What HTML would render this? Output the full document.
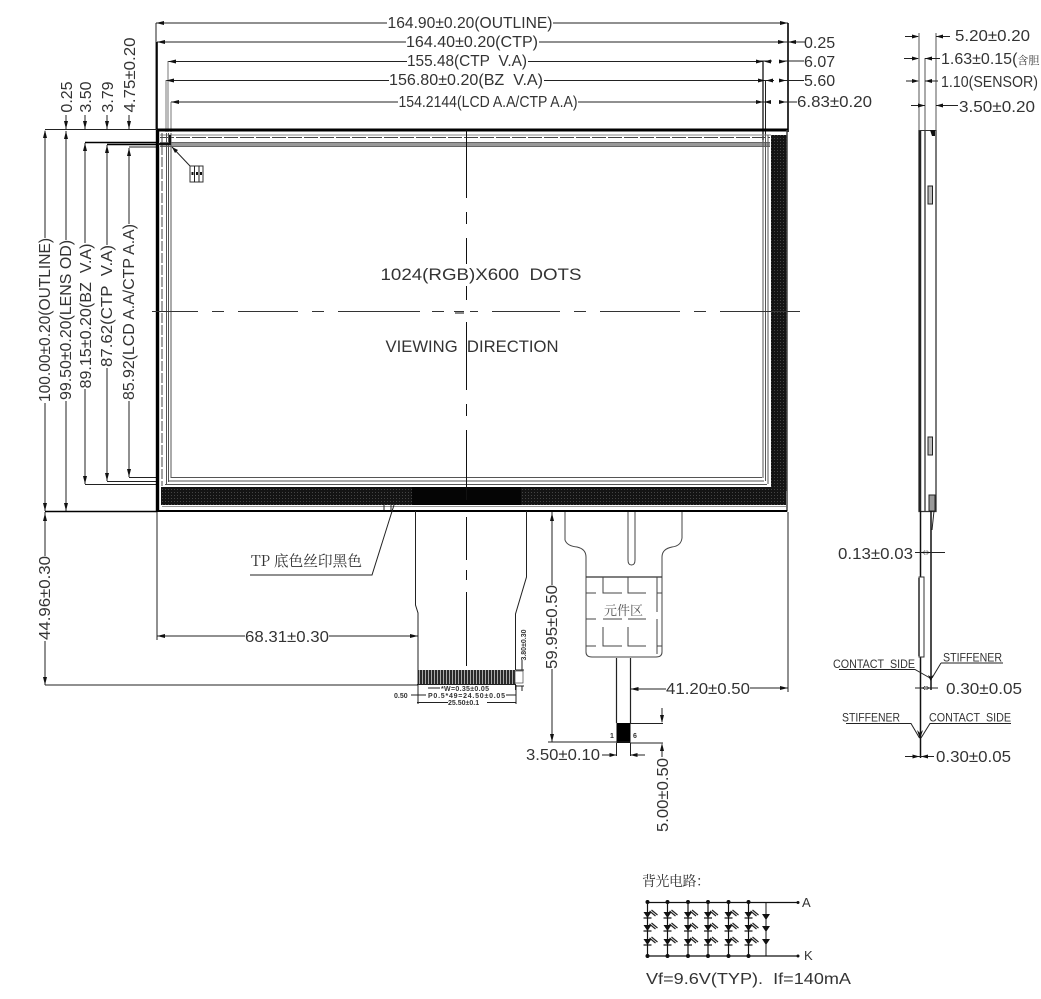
<!DOCTYPE html>
<html><head><meta charset="utf-8"><style>
html,body{margin:0;padding:0;background:#fff}
svg{display:block}
text{font-family:"Liberation Sans","Noto Sans CJK SC",sans-serif;fill:#333;font-size:16px}
.c{text-anchor:middle}
.z{font-family:"Noto Serif CJK SC","Liberation Serif",serif}
.l{stroke:#222;stroke-width:1;fill:none}
.k{stroke:#000;stroke-width:1.6;fill:none}
.h{stroke:#000;stroke-width:2.6;fill:none}
.g{stroke:#777;stroke-width:1;fill:none}
.t{font-size:11.5px}
.m{font-size:7px;font-weight:bold}
</style></head><body>
<svg width="1041" height="999" viewBox="0 0 1041 999" xmlns="http://www.w3.org/2000/svg">
<defs>
<pattern id="hat" width="3" height="3" patternUnits="userSpaceOnUse"><rect width="3" height="3" fill="#141414"/><rect width="1" height="1" fill="#444"/></pattern>
<pattern id="fpc" width="3" height="4" patternUnits="userSpaceOnUse"><rect width="3" height="4" fill="#aaa"/><rect width="2" height="4" fill="#2a2a2a"/></pattern>
<g id="led"><path d="M-4 -3H4L0 3Z" fill="#111"/><path d="M-4 3H4" stroke="#111" stroke-width="1.200"/><path d="M2 -4L8 1M4 -5L10 0" stroke="#222" stroke-width="1.200"/></g>
<g id="col"><use href="#led" y="-3"/><use href="#led" y="10"/><use href="#led" y="24"/><circle cy="-16" r="2" fill="#111"/><circle cy="38" r="2" fill="#111"/><path d="M0 -18V40" stroke="#111" stroke-width="1.200"/></g>
</defs>

<!-- top dims -->
<g class="l">
<path d="M156 23H387M553 23H788"/>
<path d="M157 42H406M539 42H788"/>
<path d="M168 61.500H407M528 61.500H763"/>
<path d="M166 80.500H389M544 80.500H765"/>
<path d="M171 102H398M578 102H763"/>
<path d="M156 23V130"/>
<path d="M157 42V130" class="k"/>
<path d="M168 61V132" class="g"/>
<path d="M166 80V132" class="g"/>
<path d="M171 102V132" class="g"/>
<path d="M763 61V146" class="k" style="stroke-width:1.2"/>
<path d="M765.500 80V146"/>
<path d="M788 23V132" class="k"/>
<path d="M779 42H806M779 61H804M779 80.500H804M779 102H797"/>
<path d="M757 61H772M759 80.500H774M754 102H770"/>
</g>
<g fill="#111">
<path d="M156 23l8-2v4zM157 42l8-2v4zM168 61.500l8-2v4zM166 80.500l8-2v4zM171 102l8-2v4z"/>
<path d="M788 23l-8-2v4zM786 42l-8-2v4zM788 42l8-2v4zM786 61.500l-7-2v4zM786 80.500l-7-2v4zM786 102l-7-2v4z"/>
<path d="M763 61.500l-7-2v4zM764 61.500l7-2v4zM765 80.500l-7-2v4zM766 80.500l7-2v4zM763 102l-7-2v4zM764 102l7-2v4z"/>
</g>
<text class="c" x="470" y="28" textLength="165" lengthAdjust="spacingAndGlyphs">164.90±0.20(OUTLINE)</text>
<text class="c" x="472" y="47" textLength="132" lengthAdjust="spacingAndGlyphs">164.40±0.20(CTP)</text>
<text class="c" x="467" y="66" textLength="120" lengthAdjust="spacingAndGlyphs">155.48(CTP&#160;&#160;V.A)</text>
<text class="c" x="466" y="85" textLength="154" lengthAdjust="spacingAndGlyphs">156.80±0.20(BZ&#160;&#160;V.A)</text>
<text class="c" x="488" y="107" textLength="179" lengthAdjust="spacingAndGlyphs">154.2144(LCD A.A/CTP A.A)</text>
<text x="804" y="48">0.25</text>
<text x="804" y="67">6.07</text>
<text x="804" y="86">5.60</text>
<text x="797" y="107" textLength="75" lengthAdjust="spacingAndGlyphs">6.83±0.20</text>

<!-- left dims -->
<g class="l">
<path d="M66 115V130M85 115V130M107 115V130M129 115V130"/>
<path d="M45 129.500H157"/>
<path d="M85 142.500H157" class="k"/>
<path d="M107 144.500H157" class="k"/>
<path d="M129 147H157"/>
<path d="M45 131V238M45 403V511"/>
<path d="M66 131V240M66 401V511"/>
<path d="M85 143V243M85 389V484"/>
<path d="M107 145V245M107 368V481"/>
<path d="M129 148V224M129 401V477"/>
<path d="M45 511.500H157" class="k"/>
<path d="M85 484.500H157"/>
<path d="M107 481.500H157"/>
<path d="M129 477.500H157"/>
<path d="M45 512V556M45 641V685"/>
<path d="M45 685H418"/>
</g>
<g fill="#111">
<path d="M45 130l-2 8h4zM66 131l-2 8h4zM85 143l-2 8h4zM107 145l-2 8h4zM129 148l-2 8h4z"/>
<path d="M66 129l-2-8h4zM85 129l-2-8h4zM107 129l-2-8h4zM129 129l-2-8h4z"/>
<path d="M45 511l-2-8h4zM66 511l-2-8h4zM85 484l-2-8h4zM107 481l-2-8h4zM129 477l-2-8h4z"/>
<path d="M45 513l-2 8h4zM45 685l-2-8h4z"/>
</g>
<g>
<text class="c" transform="translate(72,97) rotate(-90)">0.25</text>
<text class="c" transform="translate(91,97) rotate(-90)">3.50</text>
<text class="c" transform="translate(113,97) rotate(-90)">3.79</text>
<text class="c" transform="translate(135,75) rotate(-90)" textLength="75" lengthAdjust="spacingAndGlyphs">4.75±0.20</text>
<text class="c" transform="translate(50,320) rotate(-90)" textLength="164" lengthAdjust="spacingAndGlyphs">100.00±0.20(OUTLINE)</text>
<text class="c" transform="translate(71,320) rotate(-90)" textLength="160" lengthAdjust="spacingAndGlyphs">99.50±0.20(LENS OD)</text>
<text class="c" transform="translate(91,316) rotate(-90)" textLength="145" lengthAdjust="spacingAndGlyphs">89.15±0.20(BZ&#160;&#160;V.A)</text>
<text class="c" transform="translate(112,306) rotate(-90)" textLength="122" lengthAdjust="spacingAndGlyphs">87.62(CTP&#160;&#160;V.A)</text>
<text class="c" transform="translate(134,312) rotate(-90)" textLength="176" lengthAdjust="spacingAndGlyphs">85.92(LCD A.A/CTP A.A)</text>
<text class="c" transform="translate(50,598) rotate(-90)" textLength="84" lengthAdjust="spacingAndGlyphs">44.96±0.30</text>
</g>

<!-- main panel -->
<rect x="771" y="135" width="16" height="356" fill="url(#hat)"/>
<rect x="161" y="487" width="625" height="18" fill="url(#hat)"/>
<rect x="412" y="487" width="109" height="18" fill="#050505"/>
<path d="M157.500 130H787.500" class="h" style="stroke-width:3"/>
<path d="M157.500 130V511.500" class="h" style="stroke-width:3.400"/>
<path d="M787 130V511.500" stroke="#444" stroke-width="1.500"/>
<path d="M157 511H787" class="k" style="stroke-width:2"/>
<path d="M162 506.500H786" stroke="#999" stroke-width="1"/>
<path d="M160 135H771" stroke="#888" stroke-width="1"/>
<path d="M160 137.500H770" stroke="#444" stroke-width="1" stroke-dasharray="14 2"/>
<rect x="160" y="142" width="610" height="5" fill="#999"/>
<path d="M160 142.500H770M160 146.500H770" stroke="#666" stroke-width="1"/>
<path d="M162 133V486" stroke="#444" stroke-width="1" stroke-dasharray="10 2"/>
<path d="M166.500 133V484M168.500 133V482M171 133V478" stroke="#555" stroke-width="1"/>
<path d="M171 477.500H762M168 481H764M165 484.500H767" stroke="#555" stroke-width="1"/>
<path d="M763 140V478M765.500 135V481M768 135V484" stroke="#555" stroke-width="1"/>
<path d="M158 144H170V135" stroke="#111" stroke-width="2" fill="none"/>
<path d="M172 147L190 166" class="l"/>
<path d="M172 147l6 3-3 3z" fill="#111"/>
<rect x="190" y="166" width="13" height="16" fill="#fff" stroke="#333"/>
<path d="M194.500 166V182M199 166V182" stroke="#222"/>
<rect x="191.500" y="172" width="2" height="3" fill="#111"/><rect x="196" y="172" width="2" height="3" fill="#111"/><rect x="200" y="172" width="2" height="3" fill="#111"/>

<!-- center lines -->
<path d="M152 311.500H198M212 311.500H224M238 311.500H298M312 311.500H324M338 311.500H420M432 311.500H444M454 311.500H464M470 311.500H478M492 311.500H560M574 311.500H586M600 311.500H680M694 311.500H706M720 311.500H800" stroke="#333" fill="none"/>
<path d="M466.500 130V198M466.500 212V224M466.500 238V264M466.500 286V300M466.500 322V390M466.500 404V416M466.500 430V500M466.500 517V560M466.500 570V580M466.500 592V666" stroke="#111" fill="none"/>
<rect x="455" y="312" width="9" height="2" fill="#888"/>
<text class="c" x="481" y="280" style="font-size:17px" textLength="201" lengthAdjust="spacingAndGlyphs">1024(RGB)X600&#160;&#160;DOTS</text>
<text class="c" x="472" y="352" style="font-size:16.500px" textLength="173" lengthAdjust="spacingAndGlyphs">VIEWING&#160;&#160;DIRECTION</text>

<!-- leader -->
<path d="M250 575H372L394 505" class="l"/>
<path d="M384 505V510M391 505V510" class="l"/>
<text class="z" x="251" y="566" style="font-size:15px" textLength="111" lengthAdjust="spacingAndGlyphs">TP 底色丝印黑色</text>

<!-- left FPC -->
<path d="M415.500 511V605L418 613V690" class="l"/>
<path d="M526.500 511V577L515.500 614V690" class="l"/>
<rect x="418" y="670" width="98" height="14" fill="url(#fpc)"/>
<rect x="515" y="671" width="8" height="12" fill="#fff" stroke="#444" stroke-width=".7"/>
<path d="M417 684.500H516" class="l"/>
<path d="M516 670H524M516 686H524M522 660V670M522 686V691" class="l"/>
<path d="M157 512V640" class="l"/>
<path d="M157 636H245M329 636H418" class="l"/>
<path d="M157 636l8-2v4zM418 636l-8-2v4z" fill="#111"/>
<text class="c" x="287" y="642" textLength="84" lengthAdjust="spacingAndGlyphs">68.31±0.30</text>
<text class="c m" transform="translate(526,645) rotate(-90)">3.80±0.30</text>
<text x="394" y="698" class="m">0.50</text>
<text x="441" y="691" class="m" textLength="48">*W=0.35±0.05</text>
<text x="428" y="698" class="m" textLength="77">P0.5*49=24.50±0.05</text>
<text x="448" y="705" class="m">25.50±0.1</text>
<path d="M411 695H426M506 695H516M417 702.500H448M487 702.500H516M428 688H440M418 685V704M516 685V704" class="l"/>

<!-- right FPC -->
<path d="M565 512V540Q567 546 577 547Q586 549 586 557V652Q586 657 592 657H656Q662 657 662 652V557Q662 549 672 547Q681 546 682 538V512" stroke="#444" fill="none"/>
<path d="M628 512V560Q628 565 631.500 565Q635 565 635 560V512" stroke="#444" fill="none"/>
<path d="M586 577H662" stroke="#333" stroke-width="1.200"/>
<path d="M603 577V593H622M628 577V593H646M657 577V593H662M586 593H596M586 619H596M603 619H622M628 619H646M657 619V654M603 627V646H622M628 627V646H646M586 646H596M657 646H662M657 593V612" stroke="#444" fill="none"/>
<text x="604" y="615" class="z" style="font-size:13px;fill:#555">元件区</text>
<path d="M616.500 658V723M630.500 658V723" stroke="#222" stroke-width="1.200"/>
<rect x="616.500" y="723" width="14" height="20" fill="#000"/>
<path d="M616.500 743V756M630.500 743V756" class="l"/>
<text x="610" y="738" class="m">1</text>
<text x="633" y="738" class="m">6</text>
<path d="M630 689H666M750 688H788" class="l"/>
<path d="M630.500 689l8-2v4zM788 688l-8-2v4z" fill="#111"/>
<path d="M788 512V692" class="l"/>
<text x="666" y="694" textLength="84" lengthAdjust="spacingAndGlyphs">41.20±0.50</text>
<path d="M552 512V585M552 669V742" class="l"/>
<path d="M552 513l-2 8h4zM552 742l-2-8h4z" fill="#111"/>
<text class="c" transform="translate(557,627) rotate(-90)" textLength="84" lengthAdjust="spacingAndGlyphs">59.95±0.50</text>
<path d="M548 742H630.500" class="l"/>
<path d="M630 723.500H663M630 743H663" class="l"/>
<path d="M662 708V722M662 745V757" class="l"/>
<path d="M662 723l-2-8h4zM662 743l-2 8h4z" fill="#111"/>
<text class="c" transform="translate(668,795) rotate(-90)" textLength="74" lengthAdjust="spacingAndGlyphs">5.00±0.50</text>
<path d="M602 755H617M630 755H645" class="l"/>
<path d="M616.500 755l-7-2v4zM630.500 755l7-2v4z" fill="#111"/>
<text x="526" y="760" textLength="74" lengthAdjust="spacingAndGlyphs">3.50±0.10</text>

<!-- side view -->
<path d="M919 130V511.500H925M925 130V511.500M936 130V511.500H925" stroke="#333" stroke-width="1.300" fill="none"/>
<path d="M920 130V511" stroke="#222" stroke-width="2.500"/>
<path d="M920.500 511V758" stroke="#111" stroke-width="1.500"/>
<path d="M919 33V130M925 58V130M936 33V130" stroke="#555" stroke-width="1" fill="none"/>
<path d="M919 130.500H936" stroke="#333"/>
<path d="M930 130H935V136H932Z" fill="#111"/>
<rect x="928" y="186" width="4.500" height="18" fill="#bbb" stroke="#222"/>
<rect x="928" y="437" width="4.500" height="18" fill="#bbb" stroke="#222"/>
<rect x="929" y="495" width="6" height="16" fill="#999" stroke="#222"/>
<path d="M931 511V690" stroke="#111" stroke-width="1.500"/>
<path d="M934 511L932 530" stroke="#222"/>
<rect x="919" y="577" width="5" height="80" fill="#fff" stroke="#333"/>
<path d="M919 578V656" stroke="#333" stroke-width="1.600"/>
<g class="l">
<path d="M905 36.500H918M936 36.500H950M904 58.500H918M925 58.500H940M906 81H918M925 81H938M911 105.500H925M936 105.500H958"/>
</g>
<g fill="#111">
<path d="M919 36.500l-7-2v4zM936 36.500l7-2v4zM919 58.500l-7-2v4zM925 58.500l7-2v4zM919 81l-7-2v4zM925 81l7-2v4zM925 105.500l-7-2v4zM936 105.500l7-2v4z"/>
</g>
<text x="955" y="41" textLength="75" lengthAdjust="spacingAndGlyphs">5.20±0.20</text>
<text x="941" y="64">1.63±0.15(<tspan class="z" style="font-size:11px">含胆</tspan></text>
<text x="941" y="87" textLength="97" lengthAdjust="spacingAndGlyphs">1.10(SENSOR)</text>
<text x="959" y="112" textLength="76" lengthAdjust="spacingAndGlyphs">3.50±0.20</text>

<path d="M915 552.500H945" class="l"/>
<path d="M920.500 552.500l7-2v4zM931 552.500l-7-2v4z" fill="#111"/>
<text x="838" y="559" textLength="75" lengthAdjust="spacingAndGlyphs">0.13±0.03</text>
<path d="M839 669.500H915L930 678" class="l"/>
<path d="M941 663H1003M941 663L932 678" class="l"/>
<text x="833" y="668" class="t" textLength="82" lengthAdjust="spacingAndGlyphs">CONTACT&#160;&#160;SIDE</text>
<text x="943" y="661.500" class="t" textLength="59" lengthAdjust="spacingAndGlyphs">STIFFENER</text>
<path d="M931 682l-3-7 3 2 2-2z" fill="#111"/>
<path d="M915 688H938" class="l"/>
<path d="M920.500 688l7-2v4zM931 688l-7-2v4z" fill="#111"/>
<text x="946" y="694" textLength="76" lengthAdjust="spacingAndGlyphs">0.30±0.05</text>

<path d="M846 723.500H911L919.500 738M1011 723.500H930L921 738" class="l"/>
<path d="M920 739l-3-9 3 3 3-3z" fill="#111"/>
<text x="842" y="721.500" class="t" textLength="58" lengthAdjust="spacingAndGlyphs">STIFFENER</text>
<text x="929" y="721.500" class="t" textLength="82" lengthAdjust="spacingAndGlyphs">CONTACT&#160;&#160;SIDE</text>
<path d="M905 756.500H934" class="l"/>
<path d="M919.500 756.500l-7-2v4zM921 756.500l7-2v4z" fill="#111"/>
<text x="936" y="762" textLength="75" lengthAdjust="spacingAndGlyphs">0.30±0.05</text>

<!-- backlight circuit -->
<text x="642" y="886" class="z" style="font-size:14px" textLength="68" lengthAdjust="spacing">背光电路：</text>
<path d="M647 902.500H797M647 956H797" stroke="#111" stroke-width="1.200"/>
<circle cx="798" cy="902.500" r="1.500" fill="#111"/><circle cx="798" cy="956" r="1.500" fill="#111"/>
<use href="#col" x="647.500" y="918"/>
<use href="#col" x="667.500" y="918"/>
<use href="#col" x="688" y="918"/>
<use href="#col" x="708" y="918"/>
<use href="#col" x="728.500" y="918"/>
<use href="#col" x="748.500" y="918"/>
<path d="M766 902.500V956" stroke="#111"/>
<path d="M762 914H770L766 920ZM762 926H770L766 932ZM762 939H770L766 945Z" fill="#111"/>
<text x="802" y="907" style="font-size:13px">A</text>
<text x="804" y="960" style="font-size:13px">K</text>
<text x="646" y="984" textLength="205" lengthAdjust="spacingAndGlyphs">Vf=9.6V(TYP).&#160;&#160;If=140mA</text>
</svg>
</body></html>
